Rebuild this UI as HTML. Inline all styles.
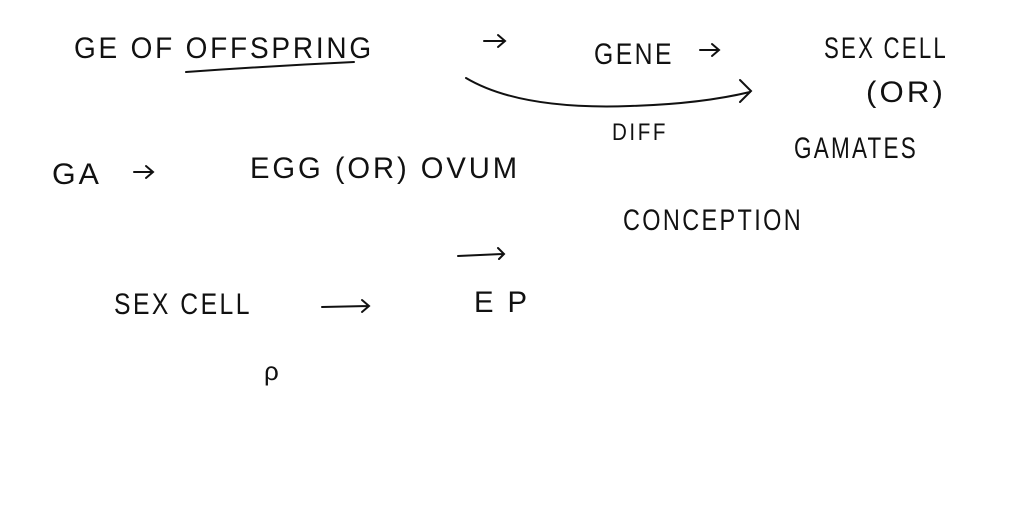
<!DOCTYPE html>
<html><head><meta charset="utf-8"><style>
html,body{margin:0;padding:0;background:#fff;}
svg{display:block;}
text{font-family:"Liberation Sans",sans-serif;fill:#111;}
</style></head><body>
<svg width="1024" height="512" viewBox="0 0 1024 512" xmlns="http://www.w3.org/2000/svg">
<rect width="1024" height="512" fill="#fff"/>
<g font-size="30" letter-spacing="3">
<text x="74" y="58" textLength="300" lengthAdjust="spacingAndGlyphs">GE  OF  OFFSPRING</text>
<text x="594" y="64" textLength="80" lengthAdjust="spacingAndGlyphs">GENE</text>
<text x="824" y="58" textLength="124" lengthAdjust="spacingAndGlyphs">SEX CELL</text>
<text x="866" y="102" textLength="80" lengthAdjust="spacingAndGlyphs">(OR)</text>
<text x="612" y="140" font-size="24" textLength="56" lengthAdjust="spacingAndGlyphs">DIFF</text>
<text x="794" y="158" textLength="124" lengthAdjust="spacingAndGlyphs">GAMATES</text>
<text x="52" y="184" textLength="50" lengthAdjust="spacingAndGlyphs">GA</text>
<text x="250" y="178" textLength="270" lengthAdjust="spacingAndGlyphs">EGG (OR) OVUM</text>
<text x="623" y="230" textLength="180" lengthAdjust="spacingAndGlyphs">CONCEPTION</text>
<text x="114" y="314" textLength="138" lengthAdjust="spacingAndGlyphs">SEX CELL</text>
<text x="474" y="312" textLength="56" lengthAdjust="spacingAndGlyphs">E P</text>
<text x="264" y="380" font-size="26">ρ</text>
</g>
<g fill="none" stroke="#111" stroke-width="2" stroke-linecap="round">
<path d="M186 72 Q270 66 354 62"/>
<path d="M484 41 L504 41 M498 35 L505 41 L498 47"/>
<path d="M700 50 L718 50 M712 44 L719 50 L712 56"/>
<path d="M134 172 L152 172 M146 166 L153 172 L146 178"/>
<path d="M466 78 Q520 110 630 106 Q700 104 750 92"/>
<path d="M740 80 L751 91 L740 102"/>
<path d="M458 256 L502 254 M498 248 L504 254 L499 259"/>
<path d="M322 307 L368 306 M362 300 L369 306 L362 312"/>
</g>
</svg>
</body></html>
